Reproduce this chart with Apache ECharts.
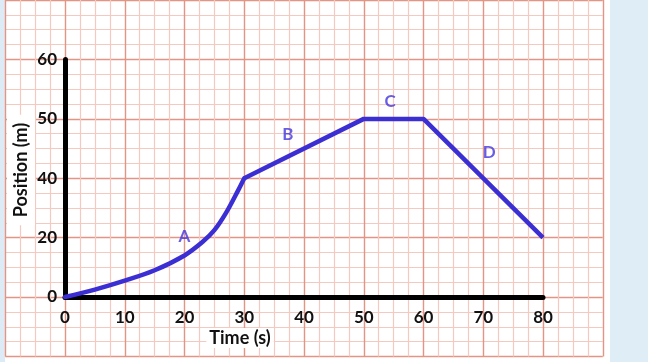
<!DOCTYPE html>
<html>
<head>
<meta charset="utf-8">
<script src="https://cdn.jsdelivr.net/npm/echarts@6/dist/echarts.min.js"></script>
<style>
html,body{margin:0;padding:0;background:#ffffff;}
#chart{width:648px;height:362px;}
</style>
</head>
<body>
<div id="chart"></div>
<script>
// ---- data ----
const xTickValues = [0, 10, 20, 30, 40, 50, 60, 70, 80];
const yTickValues = [0, 20, 40, 50, 60];           // labels are evenly spaced on the original
const timeA = [0, 5, 10, 15, 20, 23, 25, 27, 29, 30];
const posA  = [0, 2.5, 5.5, 9, 14, 18.5, 22.5, 28.5, 36, 40];
const timeBCD = [30, 50, 60, 80];
const posBCD  = [40, 50, 50, 20];
const segNames = ['A', 'B', 'C', 'D'];
const segLabelTime = [20, 37.3, 54.4, 71];
const segLabelPos  = [20.5, 47.4, 53, 44.3];
const xTitle = 'Time (s)';
const yTitle = 'Position (m)';

// the original's y axis is evenly spaced by label, so map metres to label steps
function toLevel(m) {
  for (let i = 0; i < yTickValues.length - 1; i++) {
    const a = yTickValues[i], b = yTickValues[i + 1];
    if (m <= b || i === yTickValues.length - 2) return i + (m - a) / (b - a);
  }
  return 0;
}
const pairs = (xs, ys) => xs.map((x, i) => [x, toLevel(ys[i])]);

const FONT = 'Lato';
const lineColor = '#3b2fd3';
const majorC = '#e39484';
const minorC = '#f4c9bf';

const chart = echarts.init(document.getElementById('chart'), null, {renderer: 'canvas'});
chart.setOption({
  animation: false,
  backgroundColor: '#ffffff',
  grid: [
    {left: 5.25, right: 45.25, top: -0.5, bottom: 5.5},
    {left: 65, right: 105, top: 59.5, bottom: 65}
  ],
  xAxis: [
    {
      gridIndex: 0, type: 'value', min: -10, max: 90, interval: 10,
      axisLine: {show: false}, axisTick: {show: false}, axisLabel: {show: false},
      splitLine: {show: true, lineStyle: {color: majorC, width: 1.4}},
      minorTick: {show: true, splitNumber: 4, length: 0},
      minorSplitLine: {show: true, lineStyle: {color: minorC, width: 1.2}}
    },
    {
      gridIndex: 1, type: 'value', min: 0, max: 80, interval: 10,
      axisLine: {show: true, onZero: false, lineStyle: {color: '#000', width: 5}},
      axisTick: {show: false},
      splitLine: {show: false},
      axisLabel: {color: '#111', fontFamily: FONT, fontWeight: 'bold', fontSize: 17, margin: 12}
    }
  ],
  yAxis: [
    {
      gridIndex: 0, type: 'value', min: -1, max: 5, interval: 1,
      axisLine: {show: false}, axisTick: {show: false}, axisLabel: {show: false},
      splitLine: {show: true, lineStyle: {color: majorC, width: 1.4}},
      minorTick: {show: true, splitNumber: 4, length: 0},
      minorSplitLine: {show: true, lineStyle: {color: minorC, width: 1.2}}
    },
    {
      gridIndex: 1, type: 'value', min: 0, max: yTickValues.length - 1, interval: 1,
      axisLine: {show: true, onZero: false, lineStyle: {color: '#000', width: 5}},
      axisTick: {show: false},
      splitLine: {show: false},
      axisLabel: {
        color: '#111', fontFamily: FONT, fontWeight: 'bold', fontSize: 17, margin: 8,
        formatter: v => String(yTickValues[Math.round(v)])
      }
    }
  ],
  graphic: [
    {type: 'rect', left: 0, top: 0, shape: {width: 5, height: 362}, style: {fill: '#dcebf6'}, z: -1},
    {type: 'rect', left: 610, top: 0, shape: {width: 38, height: 362}, style: {fill: '#deedf6'}, z: -1},
    {
      type: 'text', x: 240, y: 338, z: 10,
      style: {text: xTitle, font: 'bold 18px Lato', fill: '#111', align: 'center', verticalAlign: 'middle',
              backgroundColor: '#ffffff', padding: [1, 3]}
    },
    {
      type: 'text', x: 21, y: 170, rotation: Math.PI / 2, z: 10,
      style: {text: yTitle, font: 'bold 18px Lato', fill: '#111', align: 'center', verticalAlign: 'middle',
              backgroundColor: '#ffffff', padding: [5, 8]}
    }
  ],
  series: [
    {
      type: 'line', xAxisIndex: 1, yAxisIndex: 1, data: pairs(timeA, posA),
      smooth: 0.35, showSymbol: false,
      lineStyle: {color: lineColor, width: 4.5, cap: 'round'}, z: 5
    },
    {
      type: 'line', xAxisIndex: 1, yAxisIndex: 1, data: pairs(timeBCD, posBCD),
      smooth: false, showSymbol: false, lineStyle: {color: lineColor, width: 4.5, join: 'round'}, z: 5
    },
    {
      type: 'scatter', xAxisIndex: 1, yAxisIndex: 1, symbolSize: 0,
      data: segNames.map((n, i) => ({name: n, value: [segLabelTime[i], toLevel(segLabelPos[i])]})),
      label: {show: true, position: 'inside', formatter: p => p.name, color: '#4234dc',
              fontFamily: FONT, fontWeight: 'bold', fontSize: 17},
      z: 6
    }
  ]
});
</script>
</body>
</html>
